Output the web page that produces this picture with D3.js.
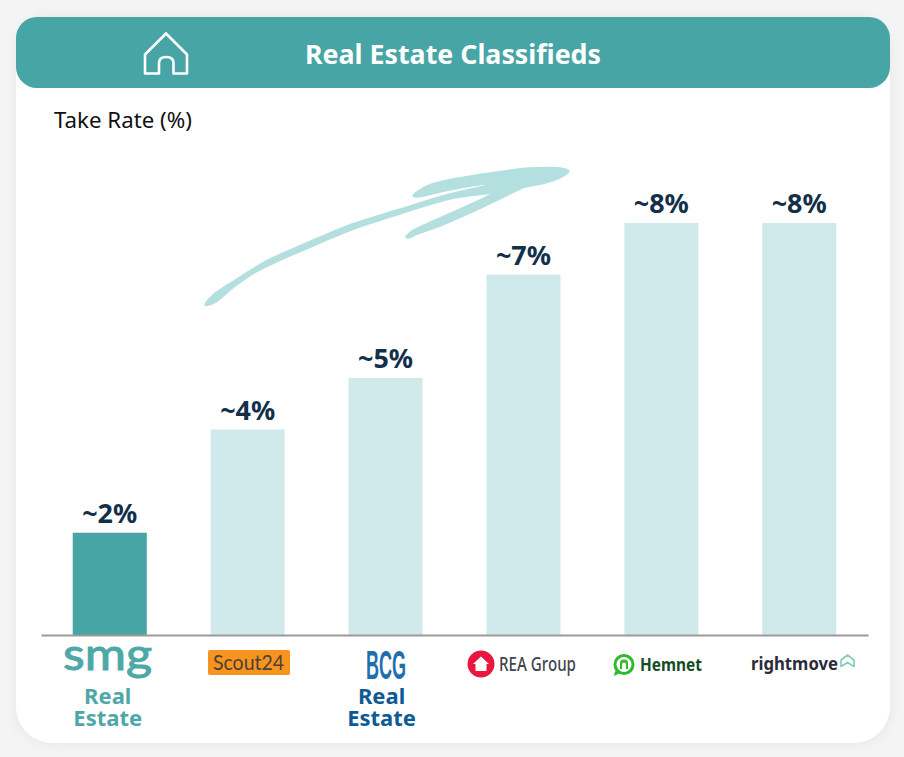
<!DOCTYPE html>
<html>
<head>
<meta charset="utf-8">
<script src="https://cdn.jsdelivr.net/npm/d3@7"></script>
<style>
  html, body { margin: 0; padding: 0; background: #f4f4f4; }
  svg { display: block; }
  text { font-family: "Noto Sans", sans-serif; }
</style>
</head>
<body>
<div id="chart"></div>
<script>
const companies = ["SMG Real Estate", "Scout24", "BCG Real Estate", "REA Group", "Hemnet", "rightmove"]
const takeRates = [2, 4, 5, 7, 8, 8]
const rateLabels = ["~2%", "~4%", "~5%", "~7%", "~8%", "~8%"]

const width = 904
const height = 757
const teal = "#47a5a5"
const paleTeal = "#d0eaeb"
const navy = "#12304a"

const svg = d3.select("#chart").append("svg").attr("width", width).attr("height", height)

// soft shadow round the card
const defs = svg.append("defs")
const blur = defs.append("filter").attr("id", "soft").attr("x", "-10%").attr("y", "-10%").attr("width", "120%").attr("height", "120%")
blur.append("feGaussianBlur").attr("stdDeviation", 5)

svg.append("rect").attr("x", 14).attr("y", 14).attr("width", 878).attr("height", 731).attr("rx", 36)
  .attr("fill", "#e9e9e9").attr("filter", "url(#soft)")
svg.append("rect").attr("x", 16).attr("y", 20).attr("width", 874).attr("height", 723).attr("rx", 36).attr("fill", "#fff")

// header
svg.append("rect").attr("x", 16).attr("y", 17).attr("width", 874).attr("height", 71).attr("rx", 21).attr("fill", teal)
svg.append("path")
  .attr("d", "M145,73.5V54.5L166,33.5L187,54.5V73.5H173.5V63Q173.5,57 166.2,57Q159,57 159,63V73.5Z")
  .attr("fill", "none").attr("stroke", "#fff").attr("stroke-width", 2.6).attr("stroke-linejoin", "round")
svg.append("text").attr("x", 453).attr("y", 64).attr("text-anchor", "middle")
  .attr("font-size", 27).attr("font-weight", 700).attr("fill", "#fff")
  .attr("textLength", 296).attr("lengthAdjust", "spacingAndGlyphs").text("Real Estate Classifieds")

svg.append("text").attr("x", 54).attr("y", 128).attr("font-size", 21).attr("fill", "#111")
  .attr("textLength", 138).attr("lengthAdjust", "spacingAndGlyphs").text("Take Rate (%)")

// scales
const x = d3.scaleBand().domain(companies).range([41, 868]).paddingInner(0.463).paddingOuter(0.23)
const y = d3.scaleLinear().domain([0, 8]).range([636, 223])

// hand drawn arrow
const brush = d3.line().curve(d3.curveCatmullRomClosed.alpha(0.5))
const arrowParts = [
  [[205,305],[213,295],[232,282],[254,268],[270,259],[318,238],[352,224],[400,209],[450,194],[500,183],[530,178],
   [505,190],[450,199],[400,214],[354,229],[320,243],[272,264],[256,272],[234,287],[214,303]],
  [[413,196],[418,191],[432,184],[490,173],[530,168],[560,168],[569,171],[560,178],[545,183],[515,189],[498,192],
   [492,185],[450,190],[416,197]],
  [[406,237],[412,231],[435,220],[480,200],[500,190],[525,186],[510,194],[485,206],[440,226],[415,235],[409,238]]
]
svg.append("g").selectAll("path").data(arrowParts).join("path")
  .attr("d", d => brush(d)).attr("fill", "#b4dfdf")
  .attr("stroke", "#b4dfdf").attr("stroke-width", 1.4).attr("stroke-linejoin", "round")

// bars
svg.append("g").selectAll("rect").data(companies).join("rect")
  .attr("x", d => x(d))
  .attr("y", (d, i) => y(takeRates[i]))
  .attr("width", x.bandwidth())
  .attr("height", (d, i) => y(0) - y(takeRates[i]))
  .attr("fill", (d, i) => i == 0 ? teal : paleTeal)

svg.append("g").selectAll("text").data(companies).join("text")
  .attr("x", d => x(d) + x.bandwidth() / 2)
  .attr("y", (d, i) => y(takeRates[i]) - 10)
  .attr("text-anchor", "middle")
  .attr("font-size", 26).attr("font-weight", 700).attr("fill", navy)
  .attr("textLength", 55).attr("lengthAdjust", "spacingAndGlyphs")
  .text((d, i) => rateLabels[i])

// axis line, the tick labels are logos
const axis = svg.append("g").attr("transform", "translate(0," + (y(0) - 1) + ")")
  .call(d3.axisBottom(x).tickSize(0).tickFormat(""))
axis.select(".domain").attr("stroke", "#9a9a9a").attr("stroke-width", 2)

function centre(name) { return x(name) + x.bandwidth() / 2 }

function logoText(g, str, tx, ty, size, weight, fill, len, family) {
  const t = g.append("text").attr("x", tx).attr("y", ty).attr("font-size", size)
    .attr("font-weight", weight).attr("fill", fill).text(str)
  if (len) t.attr("textLength", len).attr("lengthAdjust", "spacingAndGlyphs")
  if (family) t.style("font-family", family)
  return t
}

// two lines in one text element, line pitch is tighter than the font's own box
function realEstate(g, cx, fill) {
  const t = g.append("text").attr("text-anchor", "middle")
    .attr("font-size", 22).attr("font-weight", 700).attr("fill", fill)
  t.append("tspan").attr("x", cx).attr("y", 704).text("Real")
  t.append("tspan").attr("x", cx).attr("y", 725.5).text("Estate")
}

const logos = svg.append("g")

// smg
logoText(logos, "smg", 63, 670, 44, 400, "#4ea8a8", 89, "Lato")
  .attr("stroke", "#4ea8a8").attr("stroke-width", 1)
realEstate(logos, centre(companies[0]) - 2, "#4ea8a8")

// Scout24
logos.append("rect").attr("x", 208).attr("y", 650).attr("width", 82).attr("height", 25).attr("rx", 2).attr("fill", "#f7931e")
logoText(logos, "Scout24", 213, 670, 21, 400, "#4a4238", 71, "Lato")

// BCG
logoText(logos, "BCG", 366, 679, 40, 700, "#1f6fb0", 40, "'Liberation Sans Narrow', 'Liberation Sans'")
realEstate(logos, centre(companies[2]) - 4, "#0f5a94")

// REA Group
logos.append("circle").attr("cx", 481).attr("cy", 664).attr("r", 13.5).attr("fill", "#e8173f")
logos.append("path").attr("d", "M473,664L481,656.5L489,664H486.5V671H475.5V664Z").attr("fill", "#fff")
logoText(logos, "REA Group", 499, 671, 20, 500, "#3f4650", 77)

// Hemnet
logos.append("circle").attr("cx", 624).attr("cy", 664.5).attr("r", 9).attr("fill", "none").attr("stroke", "#2dbb2d").attr("stroke-width", 3)
logos.append("path").attr("d", "M615,671L614,676L620,673Z").attr("fill", "#2dbb2d")
logos.append("path").attr("d", "M620,669V663Q620,659.5 624,659.5Q628,659.5 628,663V669H626V664Q626,662.5 624,662.5Q622,662.5 622,664V669Z").attr("fill", "#2dbb2d")
logoText(logos, "Hemnet", 640, 671, 17, 700, "#154d25", 62)

// rightmove
logoText(logos, "rightmove", 751, 670, 18, 700, "#2b2b3c", 87)
logos.append("path").attr("d", "M841,666.5V660L847.5,655L854,660V666.5L847.5,662.5Z")
  .attr("fill", "none").attr("stroke", "#7fcfb5").attr("stroke-width", 1.6).attr("stroke-linejoin", "round")
</script>
</body>
</html>
